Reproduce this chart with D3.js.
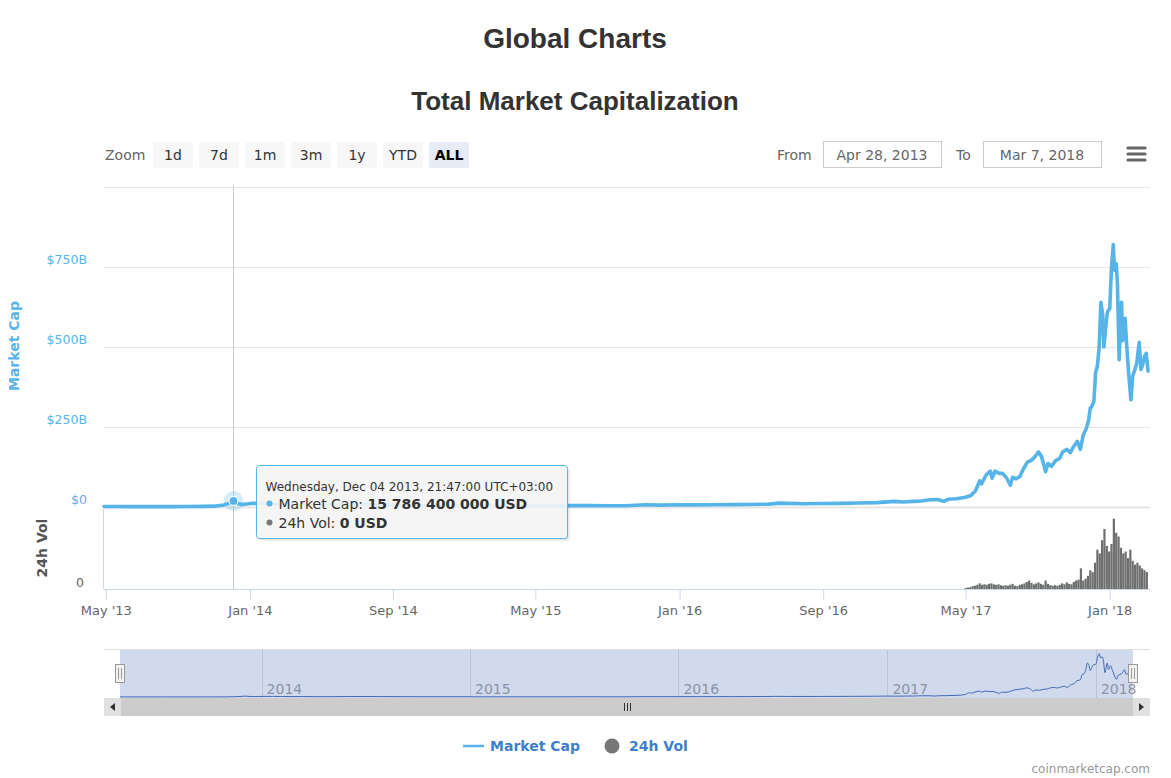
<!DOCTYPE html>
<html>
<head>
<meta charset="utf-8">
<script src="https://cdn.jsdelivr.net/npm/d3@7"></script>
<style>
  body { margin: 0; background: #fff; }
  svg { display: block; }
</style>
</head>
<body>
<div id="chart"></div>
<script>
// market cap, billions USD
const mcapDates = [
  "2013-04-28","2013-05-15","2013-06-15","2013-07-15","2013-08-15","2013-09-15","2013-10-15","2013-11-01",
  "2013-11-18","2013-11-29","2013-12-04","2013-12-10","2013-12-18","2013-12-27","2014-01-05","2014-01-20",
  "2014-02-05","2014-02-25","2014-03-15","2014-04-10","2014-05-01","2014-06-01","2014-07-01","2014-08-01",
  "2014-09-01","2014-10-01","2014-11-01","2014-12-01","2015-01-01","2015-01-15","2015-02-01","2015-03-01",
  "2015-04-01","2015-05-01","2015-06-01","2015-07-01","2015-08-01","2015-09-01","2015-10-01","2015-11-04",
  "2015-12-01","2016-01-01","2016-02-01","2016-03-01","2016-04-01","2016-05-01","2016-06-01","2016-06-18",
  "2016-07-01","2016-08-01","2016-09-01","2016-10-01","2016-11-01","2016-12-01","2017-01-01","2017-01-15",
  "2017-02-01","2017-02-15","2017-03-01","2017-03-15","2017-03-25","2017-04-01","2017-04-15","2017-05-01",
  "2017-05-10","2017-05-18","2017-05-25","2017-05-28","2017-06-05","2017-06-12","2017-06-15","2017-06-20",
  "2017-06-27","2017-07-03","2017-07-10","2017-07-16","2017-07-20","2017-07-26","2017-08-01","2017-08-07",
  "2017-08-14","2017-08-20","2017-08-26","2017-09-02","2017-09-07","2017-09-14","2017-09-18","2017-09-24",
  "2017-10-01","2017-10-08","2017-10-13","2017-10-20","2017-10-26","2017-11-01","2017-11-07","2017-11-12",
  "2017-11-17","2017-11-22","2017-11-26","2017-11-29","2017-12-01","2017-12-05","2017-12-08","2017-12-11",
  "2017-12-14","2017-12-17","2017-12-20","2017-12-22","2017-12-25","2017-12-28","2018-01-01","2018-01-04",
  "2018-01-07","2018-01-09","2018-01-12","2018-01-14","2018-01-17","2018-01-19","2018-01-21","2018-01-23",
  "2018-01-27","2018-01-30","2018-02-02","2018-02-06","2018-02-09","2018-02-12","2018-02-16","2018-02-20",
  "2018-02-23","2018-02-26","2018-03-01","2018-03-04","2018-03-07"
];
const mcapValues = [
  1.55, 1.35, 1.2, 1.1, 1.3, 1.6, 1.9, 2.6,
  6.5, 13.5, 15.79, 11.5, 7.5, 9.5, 11.5, 11,
  10, 7.5, 8.5, 5.5, 6, 8.5, 8.5, 7.7,
  6.5, 5.3, 4.8, 5.3, 4.8, 3.1, 3.4, 3.9,
  3.6, 3.6, 3.6, 4.4, 4.4, 3.9, 4.1, 6.9,
  5.8, 7.0, 6.7, 7.2, 7.3, 7.6, 9.1, 12.0,
  11.3, 10.2, 10.9, 11.4, 12.6, 13.8, 17.7, 15.5,
  17.7, 18.8, 22.6, 23.5, 17.5, 24.1, 25.8, 30.6,
  36, 51, 82, 72, 100, 112, 90, 112,
  105, 105, 90, 68, 93, 88, 95, 118,
  140, 145, 155, 172, 158, 110, 136, 127,
  145, 152, 172, 180, 170, 190, 205, 180,
  225, 245, 270, 310, 312, 330, 420, 440,
  500, 640, 600, 500, 560, 610, 620, 750,
  820, 740, 760, 700, 460, 560, 640, 520,
  590, 500, 420, 335, 410, 425, 450, 515,
  430, 445, 470, 480, 425
];

// 24h volume, billions USD
const volDates = [
  "2017-05-01","2017-05-05","2017-05-09","2017-05-13","2017-05-17","2017-05-21","2017-05-25","2017-05-29",
  "2017-06-02","2017-06-06","2017-06-10","2017-06-14","2017-06-18","2017-06-22","2017-06-26","2017-06-30",
  "2017-07-04","2017-07-08","2017-07-12","2017-07-16","2017-07-20","2017-07-24","2017-07-28",
  "2017-08-01","2017-08-05","2017-08-09","2017-08-13","2017-08-17","2017-08-21","2017-08-25","2017-08-29",
  "2017-09-02","2017-09-06","2017-09-10","2017-09-14","2017-09-18","2017-09-22","2017-09-26","2017-09-30",
  "2017-10-04","2017-10-08","2017-10-12","2017-10-16","2017-10-20","2017-10-24","2017-10-28",
  "2017-11-01","2017-11-05","2017-11-09","2017-11-13","2017-11-17","2017-11-21","2017-11-25","2017-11-29",
  "2017-12-03","2017-12-07","2017-12-11","2017-12-15","2017-12-19","2017-12-23","2017-12-27","2017-12-31",
  "2018-01-04","2018-01-08","2018-01-12","2018-01-16","2018-01-20","2018-01-24","2018-01-28",
  "2018-02-01","2018-02-05","2018-02-09","2018-02-13","2018-02-17","2018-02-21","2018-02-25",
  "2018-03-01","2018-03-05"
];
const volValues = [
  1.0, 1.5, 2.0, 3.0, 3.5, 4.5, 6.0, 4.5,
  5.0, 4.5, 5.5, 6.0, 5.0, 4.5, 5.0, 4.0,
  3.5, 4.0, 3.5, 4.5, 5.5, 3.5, 3.0,
  4.5, 5.0, 6.0, 7.5, 9.0, 6.5, 5.0, 6.0,
  7.0, 5.5, 4.5, 9.0, 5.5, 4.0, 3.5, 4.0,
  3.5, 4.5, 6.0, 5.0, 7.0, 5.5, 5.0,
  7.5, 9.0, 10.0, 22.0, 9.0, 11.0, 14.0, 20.0,
  18.0, 28.0, 42.0, 38.0, 52.0, 64.0, 46.0, 40.0,
  48.0, 75.0, 60.0, 56.0, 44.0, 38.0, 40.0,
  33.0, 42.0, 30.0, 26.0, 28.0, 25.0, 22.0,
  20.0, 18.0
];

const xTickDates = ["2013-05-01","2014-01-01","2014-09-01","2015-05-01","2016-01-01","2016-09-01","2017-05-01","2018-01-01"];
const mcapTicks = [0, 250, 500, 750, 1000];
const mcapTickLabels = ["$0", "$250B", "$500B", "$750B", ""];
const navYears = ["2014", "2015", "2016", "2017", "2018"];
const zoomButtons = ["1d", "7d", "1m", "3m", "1y", "YTD", "ALL"];
const hoverDate = "2013-12-04";
const hoverCap = 15.79;

const parse = d3.timeParse("%Y-%m-%d");
const mcap = mcapDates.map((d, i) => ({ date: parse(d), v: mcapValues[i] }));
const vol = volDates.map((d, i) => ({ date: parse(d), v: volValues[i] }));

const width = 1171;
const height = 778;
const blue = "#56b4e9";
const uiFont = "'DejaVu Sans', 'Open Sans', sans-serif";
const titleFont = "'Liberation Sans', Arial, sans-serif";

const svg = d3.select("#chart").append("svg")
  .attr("width", width).attr("height", height)
  .style("font-family", uiFont);

// titles
svg.append("text").attr("x", 575).attr("y", 48).attr("text-anchor", "middle")
  .style("font-family", titleFont).style("font-size", "28px").style("font-weight", "bold")
  .attr("fill", "#333").text("Global Charts");
svg.append("text").attr("x", 575).attr("y", 110).attr("text-anchor", "middle")
  .style("font-family", titleFont).style("font-size", "26px").style("font-weight", "bold")
  .attr("fill", "#333").text("Total Market Capitalization");

// range selector
svg.append("text").attr("x", 105).attr("y", 160).attr("fill", "#666")
  .style("font-size", "14px").text("Zoom");
const btnX = d3.scaleBand().domain(zoomButtons).range([153, 469]).paddingInner(0.13);
const btn = svg.selectAll(".btn").data(zoomButtons).enter().append("g").attr("class", "btn");
btn.append("rect")
  .attr("x", d => btnX(d)).attr("y", 142)
  .attr("width", btnX.bandwidth()).attr("height", 26).attr("rx", 2)
  .attr("fill", d => d === "ALL" ? "#e6ebf5" : "#f7f7f7");
btn.append("text")
  .attr("x", d => btnX(d) + btnX.bandwidth() / 2).attr("y", 160)
  .attr("text-anchor", "middle").style("font-size", "14px")
  .style("font-weight", d => d === "ALL" ? "bold" : "normal")
  .attr("fill", d => d === "ALL" ? "#000" : "#333").text(d => d);

svg.append("text").attr("x", 777).attr("y", 160).attr("fill", "#666")
  .style("font-size", "14px").text("From");
svg.append("rect").attr("x", 823.5).attr("y", 141.5).attr("width", 118).attr("height", 26)
  .attr("fill", "#fff").attr("stroke", "#ccc");
svg.append("text").attr("x", 882).attr("y", 160).attr("text-anchor", "middle").attr("fill", "#666")
  .style("font-size", "14px").text("Apr 28, 2013");
svg.append("text").attr("x", 956).attr("y", 160).attr("fill", "#666")
  .style("font-size", "14px").text("To");
svg.append("rect").attr("x", 983.5).attr("y", 141.5).attr("width", 118).attr("height", 26)
  .attr("fill", "#fff").attr("stroke", "#ccc");
svg.append("text").attr("x", 1042).attr("y", 160).attr("text-anchor", "middle").attr("fill", "#666")
  .style("font-size", "14px").text("Mar 7, 2018");

[148, 154, 160].forEach(yy => {
  svg.append("line").attr("x1", 1128).attr("x2", 1145).attr("y1", yy).attr("y2", yy)
    .attr("stroke", "#666").attr("stroke-width", 3.2).attr("stroke-linecap", "round");
});

// scales
const x = d3.scaleTime().domain([parse("2013-04-28"), parse("2018-03-07")]).range([104, 1148]);
const yMain = d3.scaleLinear().domain([0, 1000]).range([507, 187]);
const yVol = d3.scaleLinear().domain([0, 80]).range([589, 514]);

// gridlines
svg.append("g").selectAll("line").data(mcapTicks).enter().append("line")
  .attr("x1", 104).attr("x2", 1150)
  .attr("y1", d => Math.round(yMain(d)) + 0.5).attr("y2", d => Math.round(yMain(d)) + 0.5)
  .attr("stroke", "#e6e6e6").attr("stroke-width", d => d === 0 ? 2 : 1);

svg.append("g").selectAll("text").data(mcapTicks).enter().append("text")
  .attr("x", 87).attr("y", d => yMain(d) - 3)
  .attr("text-anchor", "end").attr("fill", blue).style("font-size", "12.5px")
  .text((d, i) => mcapTickLabels[i]);

svg.append("text").attr("x", 84).attr("y", 587).attr("text-anchor", "end")
  .attr("fill", "#666").style("font-size", "12.5px").text("0");

svg.append("text").attr("transform", "translate(19,346) rotate(-90)")
  .attr("text-anchor", "middle").attr("fill", blue)
  .style("font-size", "14px").style("font-weight", "bold").text("Market Cap");
svg.append("text").attr("transform", "translate(47,548) rotate(-90)")
  .attr("text-anchor", "middle").attr("fill", "#555")
  .style("font-size", "14px").style("font-weight", "bold").text("24h Vol");

// volume axis line
svg.append("line").attr("x1", 103.5).attr("x2", 103.5).attr("y1", 509).attr("y2", 589)
  .attr("stroke", "#ccd6eb");

// crosshair
svg.append("line").attr("x1", Math.round(x(parse(hoverDate))) + 0.5)
  .attr("x2", Math.round(x(parse(hoverDate))) + 0.5)
  .attr("y1", 185).attr("y2", 589).attr("stroke", "#ccc");

// volume bars
svg.append("g").selectAll("rect").data(vol).enter().append("rect")
  .attr("x", d => x(d.date) - 1.1).attr("width", 2.2)
  .attr("y", d => yVol(d.v)).attr("height", d => yVol(0) - yVol(d.v))
  .attr("fill", "#6e6e6e");

// market cap line
const line = d3.line().x(d => x(d.date)).y(d => yMain(d.v));
svg.append("path").datum(mcap).attr("d", line)
  .attr("fill", "none").attr("stroke", blue).attr("stroke-width", 3.6)
  .attr("stroke-linejoin", "round").attr("stroke-linecap", "round");

// x axis
const xAxis = d3.axisBottom(x)
  .tickValues(xTickDates.map(parse))
  .tickFormat(d3.timeFormat("%b '%y"))
  .tickSize(10).tickPadding(6);
const gx = svg.append("g").attr("transform", "translate(0,589.5)").call(xAxis);
gx.select(".domain").attr("stroke", "#ccd6eb").attr("d", "M104,0H1150");
gx.selectAll(".tick line").attr("stroke", "#ccd6eb");
gx.selectAll(".tick text").attr("fill", "#666").style("font-size", "13px").style("font-family", uiFont);

// hover marker
const hx = x(parse(hoverDate));
const hy = yMain(hoverCap) - 1;
svg.append("circle").attr("cx", hx).attr("cy", hy).attr("r", 10)
  .attr("fill", blue).attr("fill-opacity", 0.25);
svg.append("circle").attr("cx", hx).attr("cy", hy).attr("r", 4.5)
  .attr("fill", blue).attr("stroke", "#fff").attr("stroke-width", 1.2);

// tooltip
const tip = svg.append("g").attr("transform", "translate(256.5,465.5)");
[3, 2, 1].forEach(o => {
  tip.append("rect").attr("x", o).attr("y", o).attr("width", 311).attr("height", 73).attr("rx", 3)
    .attr("fill", "#000").attr("fill-opacity", 0.04);
});
tip.append("rect").attr("width", 311).attr("height", 73).attr("rx", 3)
  .attr("fill", "#f7f7f7").attr("fill-opacity", 0.9).attr("stroke", blue);
tip.append("text").attr("x", 9).attr("y", 25).attr("fill", "#333").style("font-size", "12px")
  .text("Wednesday, Dec 04 2013, 21:47:00 UTC+03:00");
tip.append("circle").attr("cx", 13).attr("cy", 38).attr("r", 3).attr("fill", blue);
const t2 = tip.append("text").attr("x", 22).attr("y", 43).attr("fill", "#333").style("font-size", "14px");
t2.append("tspan").text("Market Cap: ");
t2.append("tspan").style("font-weight", "bold").text("15 786 400 000 USD");
tip.append("circle").attr("cx", 13).attr("cy", 57).attr("r", 3).attr("fill", "#777");
const t3 = tip.append("text").attr("x", 22).attr("y", 62).attr("fill", "#333").style("font-size", "14px");
t3.append("tspan").text("24h Vol: ");
t3.append("tspan").style("font-weight", "bold").text("0 USD");

// navigator
const xNav = d3.scaleTime().domain(x.domain()).range([120, 1133]);
const yNav = d3.scaleLinear().domain([0, 850]).range([697, 652]);

svg.append("line").attr("x1", 104).attr("x2", 1150).attr("y1", 649.5).attr("y2", 649.5)
  .attr("stroke", "#ddd");
svg.append("g").selectAll("line").data(navYears).enter().append("line")
  .attr("x1", d => Math.round(xNav(parse(d + "-01-01"))) + 0.5)
  .attr("x2", d => Math.round(xNav(parse(d + "-01-01"))) + 0.5)
  .attr("y1", 650).attr("y2", 698).attr("stroke", "#e0e0e0");
svg.append("g").selectAll("text").data(navYears).enter().append("text")
  .attr("x", d => xNav(parse(d + "-01-01")) + 5).attr("y", 694)
  .attr("fill", "#999").style("font-size", "14px").text(d => d);

const navLine = d3.line().x(d => xNav(d.date)).y(d => yNav(d.v)).curve(d3.curveMonotoneX);
svg.append("path").datum(mcap).attr("d", navLine)
  .attr("fill", "none").attr("stroke", "#335cad").attr("stroke-width", 1);

svg.append("rect").attr("x", xNav.range()[0]).attr("y", 650)
  .attr("width", xNav.range()[1] - xNav.range()[0]).attr("height", 48)
  .attr("fill", "rgb(102,133,194)").attr("fill-opacity", 0.3);

xNav.range().forEach(hxv => {
  svg.append("rect").attr("x", hxv - 4.5).attr("y", 664.5).attr("width", 9).attr("height", 18)
    .attr("fill", "#f2f2f2").attr("stroke", "#999");
  [-1.5, 1.5].forEach(o => {
    svg.append("line").attr("x1", hxv + o).attr("x2", hxv + o).attr("y1", 668).attr("y2", 679)
      .attr("stroke", "#999");
  });
});

// scrollbar
svg.append("rect").attr("x", 104).attr("y", 698).attr("width", 1046).attr("height", 18)
  .attr("fill", "#cccccc");
[[104, "M115,703 L115,711 L110,707 Z"], [1133, "M1139,703 L1139,711 L1144,707 Z"]].forEach(([bx, p]) => {
  svg.append("rect").attr("x", bx).attr("y", 698).attr("width", 17).attr("height", 18).attr("fill", "#e0e0e0");
  svg.append("path").attr("d", p).attr("fill", "#333");
});
[-3, 0, 3].forEach(o => {
  svg.append("line").attr("x1", 627.5 + o).attr("x2", 627.5 + o).attr("y1", 703).attr("y2", 711)
    .attr("stroke", "#333");
});

// legend
svg.append("line").attr("x1", 463).attr("x2", 484).attr("y1", 746).attr("y2", 746)
  .attr("stroke", blue).attr("stroke-width", 2.5);
svg.append("text").attr("x", 490).attr("y", 751).attr("fill", "#3d7fcc")
  .style("font-size", "14px").style("font-weight", "bold").text("Market Cap");
svg.append("circle").attr("cx", 612).attr("cy", 746).attr("r", 7.5).attr("fill", "#777");
svg.append("text").attr("x", 629).attr("y", 751).attr("fill", "#3d7fcc")
  .style("font-size", "14px").style("font-weight", "bold").text("24h Vol");

// credits
svg.append("text").attr("x", 1150).attr("y", 773).attr("text-anchor", "end")
  .attr("fill", "#999").style("font-size", "12px").text("coinmarketcap.com");
</script>
</body>
</html>
